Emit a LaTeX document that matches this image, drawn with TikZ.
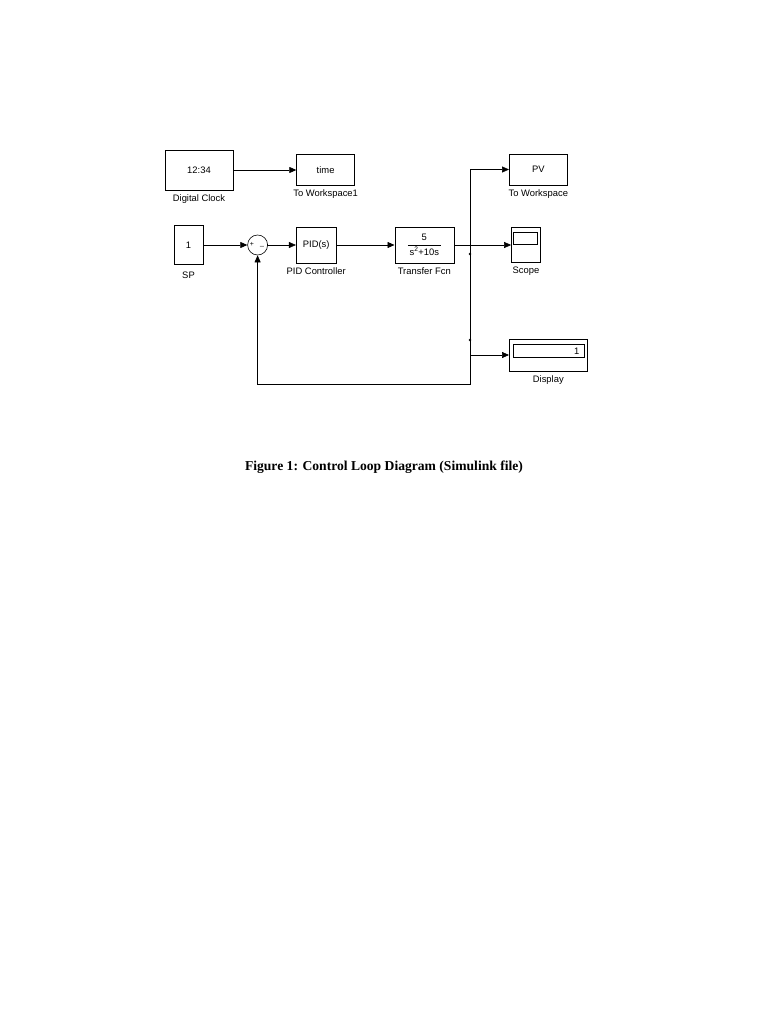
\documentclass[tikz,border=0pt]{standalone}
\usepackage{fontspec}
\setmainfont{Liberation Sans}
\newfontfamily\capfont{Liberation Serif}
\usetikzlibrary{positioning}
\usetikzlibrary{calc}
\usetikzlibrary{arrows.meta}
\tikzset{%
  sig/.style = {-{Triangle[length=7pt,width=6pt]},line width=0.6pt},
  wire/.style = {line width=0.6pt},
  blk/.style = {rectangle,draw,line width=0.6pt,inner sep=0pt,
        font=\fontsize{9.4}{11}\selectfont},
  sumc/.style = {circle,draw,line width=0.6pt,minimum size=20pt,
        inner sep=0pt},
  lbl/.style = {font=\fontsize{9.4}{11}\selectfont,inner sep=1.5pt,
        label distance=2.5pt}
}

\begin{document}
\begin{tikzpicture}[x=1pt,y=-1pt]
        \useasboundingbox (0,0) rectangle (768,1024);
        \node[blk,minimum width=68pt,minimum height=40pt,label={[lbl]below:Digital Clock}] (clock) at (199,170) {12:34};
        \node[blk,minimum width=58pt,minimum height=31pt,label={[lbl]below:To Workspace1}] (time) [right=63pt of clock] {time};

        \node[blk,minimum width=29pt,minimum height=39pt,label={[lbl,yshift=-3pt]below:SP}] (sp) at (188.5,245) {1};
        \node[sumc] (sum) [right=44pt of sp] {};
        \node[font=\fontsize{7}{7}\selectfont] (plus) at (252,244) {+};
        \node[font=\fontsize{7}{7}\selectfont] (minus) at (262,246) {\_};
        \node[blk,minimum width=40pt,minimum height=36pt,label={[lbl]below:PID Controller}] (pid) [right=28pt of sum] {PID(s)};
        \node[blk,minimum width=59pt,minimum height=36pt,label={[lbl]below:Transfer Fcn}] (tf) [right=58pt of pid]
            {\renewcommand{\arraystretch}{1.35}\begin{tabular}{@{\,}c@{\,}}5\\\hline s\textsuperscript{2}+10s\end{tabular}};
        \node[blk,minimum width=29pt,minimum height=35pt,label={[lbl]below:Scope}] (scope) [right=57pt of tf] {};
        \node[blk,minimum width=58pt,minimum height=31pt,anchor=west,label={[lbl]below:To Workspace}] (pv) at (509,169.5) {PV};
        \node[blk,minimum width=78pt,minimum height=32pt,anchor=west,label={[lbl]below:Display}] (display) at (509,355) {};

        % scope screen and display window
        \draw[line width=0.6pt] ($(scope.north west)+(2,5)$) rectangle ($(scope.north east)+(-3,17)$);
        \draw[line width=0.6pt] ($(display.north west)+(4,6)$) rectangle ($(display.north east)+(-3,19)$);
        \node[font=\fontsize{9.4}{11}\selectfont,inner sep=0pt,anchor=east] (dval) at ($(display.north east)+(-8,12.5)$) {1};

        \coordinate (br1) at (470,245);
        \coordinate (br2) at (470,340);
        \coordinate (fbc) at (470,384);

        \draw[sig] (clock) -- (time);
        \draw[sig] (sp) -- (sum);
        \draw[sig] (sum) -- (pid);
        \draw[sig] (pid) -- (tf);
        \draw[sig] (tf) -- (scope);
        \draw[sig] (br1) |- (pv);
        \draw[wire] (br1) -- (br2);
        \draw[sig] (br2) |- (display.west);
        \draw[sig] (br2) -- (fbc) -| (sum.south);
        \fill (470,254) circle (1.4pt);
        \fill (br2) circle (1.4pt);

        \node[font=\capfont\bfseries\fontsize{13.6}{16}\selectfont] (cap) at (384,467) {Figure 1: Control Loop Diagram (Simulink file)};
    \end{tikzpicture}
\end{document}
